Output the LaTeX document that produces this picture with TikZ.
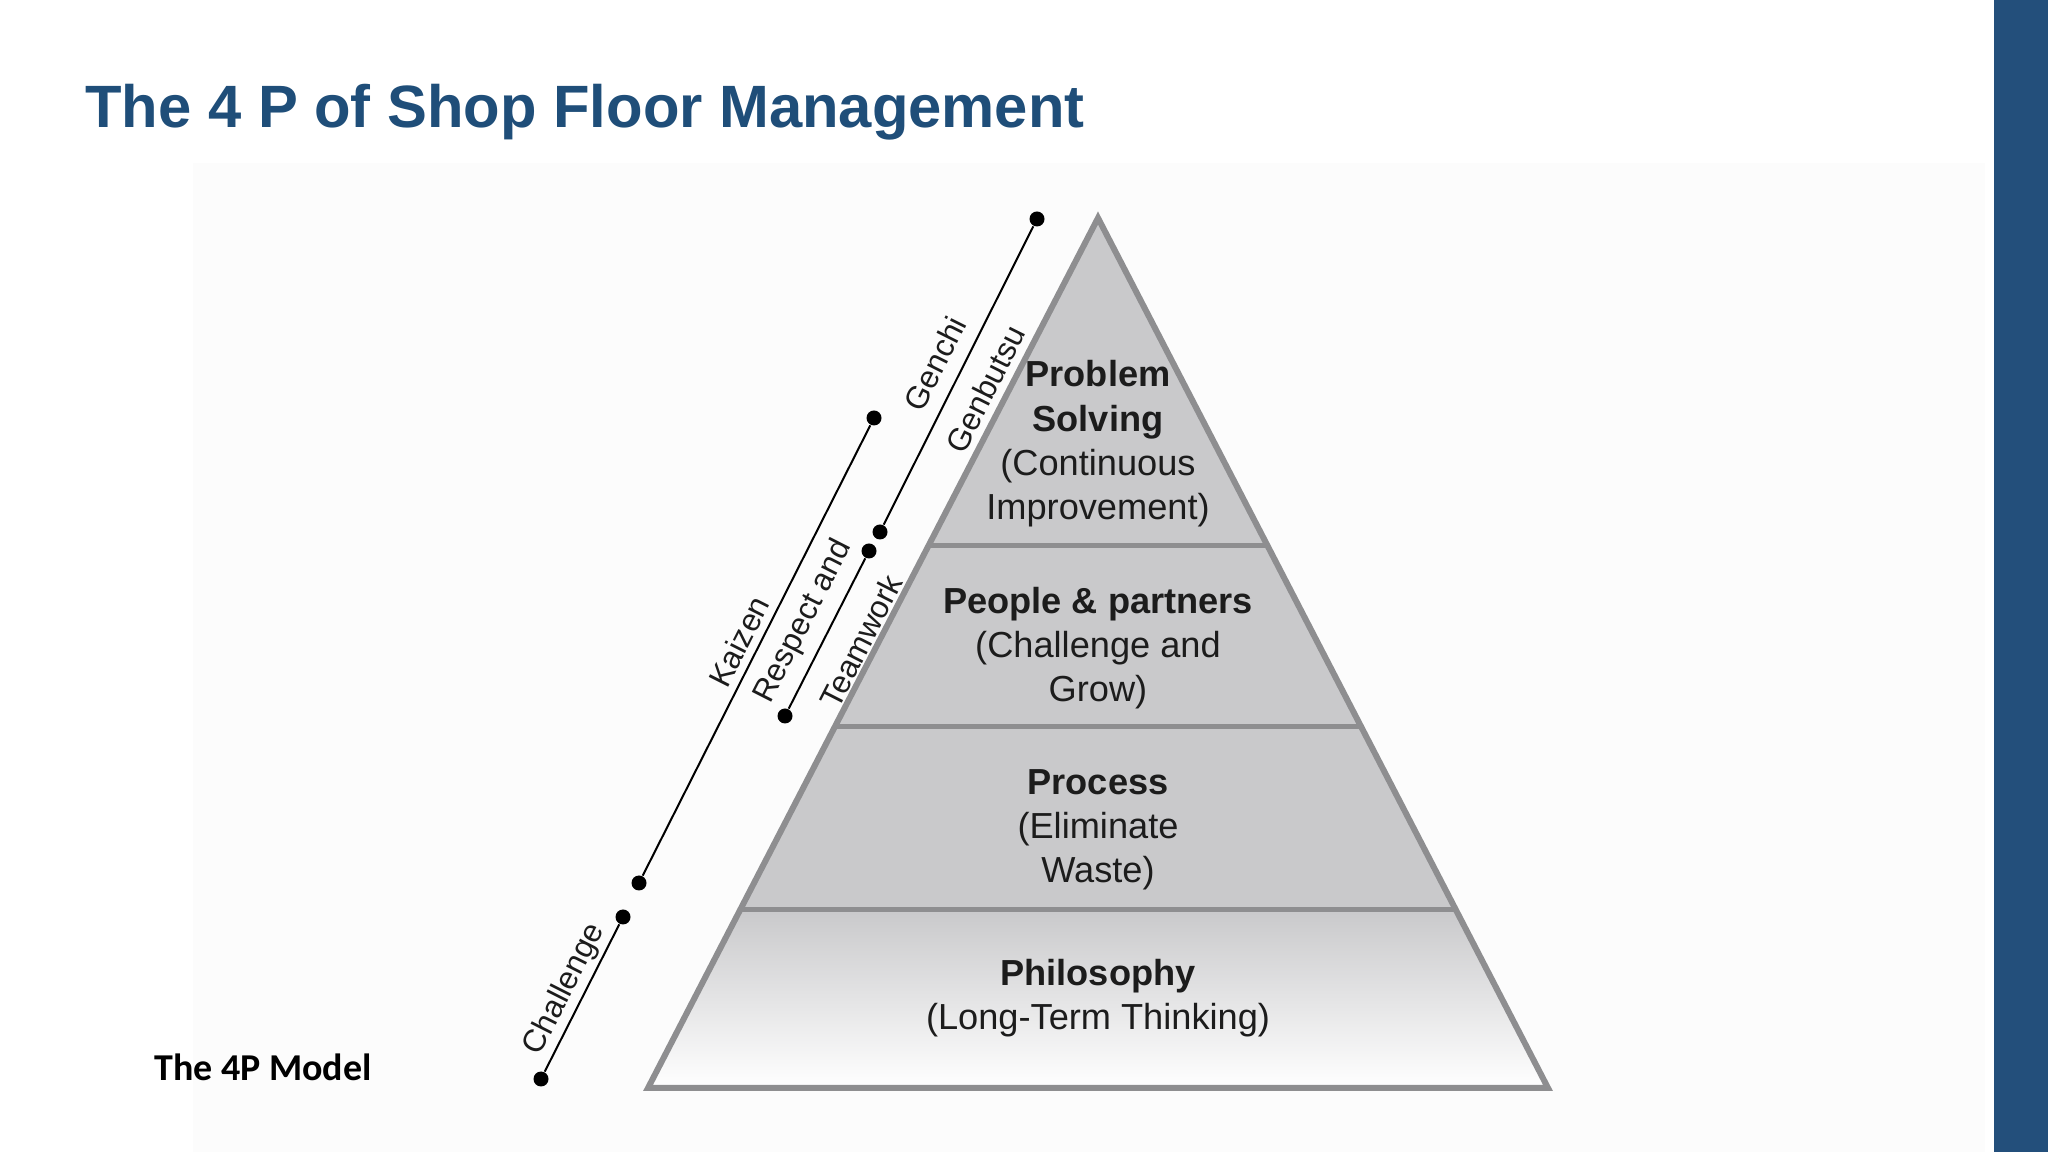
\documentclass[tikz,border=0pt]{standalone}
\usepackage{fontspec}
\setmainfont{Liberation Sans}
\newfontfamily\calibrifont{Carlito}
\usetikzlibrary{calc,positioning}
\definecolor{SlideBlue}{HTML}{1F4E79}
\definecolor{BarBlue}{HTML}{234F7B}
\definecolor{PyrFill}{HTML}{C9C9CB}
\definecolor{PyrEdge}{HTML}{8E8E90}
\definecolor{PyrInk}{HTML}{1C1C1C}
\tikzset{
  tagline/.style={line width=0.2mm,black},
  tagdot/.style={circle,fill=black,inner sep=0pt,minimum size=1.5mm},
  taglabel/.style={font=\fontsize{9}{10}\selectfont,text=PyrInk,inner sep=1pt},
  levellabel/.style={align=center,text=PyrInk,inner sep=1pt,font=\fontsize{10.3}{12.6}\selectfont},
}

\begin{document}
\begin{tikzpicture}[x=0.1mm,y=-0.1mm]
  \useasboundingbox (0,0) rectangle (2048,1152);
  \fill[white] (0,0) rectangle (2048,1152);
  \fill[black!1] (193,163) rectangle (1985,1152);
  \fill[BarBlue] (1994,0) rectangle (2048,1152);
  \node[anchor=base west,text=SlideBlue,font=\fontsize{17}{20}\selectfont\bfseries]
    (title) at (73,128) {The 4 P of Shop Floor Management};

  % pyramid
  \coordinate (apex) at (1098,218);
  \coordinate (bl) at (648,1088);
  \coordinate (br) at (1548,1088);
  \coordinate (l1) at ($(apex)!0.377!(bl)$);
  \coordinate (r1) at ($(apex)!0.377!(br)$);
  \coordinate (l2) at ($(apex)!0.585!(bl)$);
  \coordinate (r2) at ($(apex)!0.585!(br)$);
  \coordinate (l3) at ($(apex)!0.795!(bl)$);
  \coordinate (r3) at ($(apex)!0.795!(br)$);
  \fill[PyrFill] (apex) -- (l3) -- (r3) -- cycle;
  \shade[top color=PyrFill,bottom color=white] (l3) -- (r3) -- (br) -- (bl) -- cycle;
  \draw[PyrEdge,line width=0.5mm] (l1) -- (r1) (l2) -- (r2) (l3) -- (r3);
  \draw[PyrEdge,line width=0.6mm,line join=miter] (apex) -- (br) -- (bl) -- cycle;

  \node[levellabel] (solving) at (1098,444)
    {\textbf{Problem}\\\textbf{Solving}\\(Continuous\\Improvement)};
  \node[levellabel] (people) at (1098,648)
    {\textbf{People \& partners}\\(Challenge and\\Grow)};
  \node[levellabel] (process) at (1098,830)
    {\textbf{Process}\\(Eliminate\\Waste)};
  \node[levellabel] (philosophy) at (1098,998)
    {\textbf{Philosophy}\\(Long-Term Thinking)};

  % tags along the left side
  \node[tagdot] (gg1) at (880,532) {};
  \node[tagdot] (gg2) at (1037,219) {};
  \node[tagdot] (kz1) at (639,883) {};
  \node[tagdot] (kz2) at (874,418) {};
  \node[tagdot] (rt1) at (785,716) {};
  \node[tagdot] (rt2) at (869,551) {};
  \node[tagdot] (ch1) at (541,1079) {};
  \node[tagdot] (ch2) at (623,917) {};
  \draw[tagline] (gg1) -- node[taglabel,sloped,above=3pt] (genchi) {Genchi}
    node[taglabel,sloped,below=4pt] (genbutsu) {Genbutsu} (gg2);
  \draw[tagline] (kz1) -- node[taglabel,sloped,above=1pt] (kaizen) {Kaizen} (kz2);
  \draw[tagline] (rt1) -- node[taglabel,sloped,above=2pt] (respect) {Respect and}
    node[taglabel,sloped,below=5pt,pos=0.55] (teamwork) {Teamwork} (rt2);
  \draw[tagline] (ch1) -- node[taglabel,sloped,above=0pt] (challenge) {Challenge} (ch2);

  \node[anchor=base west,font=\fontsize{10.8}{13}\calibrifont\bfseries]
    (model) at (142,1081) {The 4P Model};
\end{tikzpicture}
\end{document}
